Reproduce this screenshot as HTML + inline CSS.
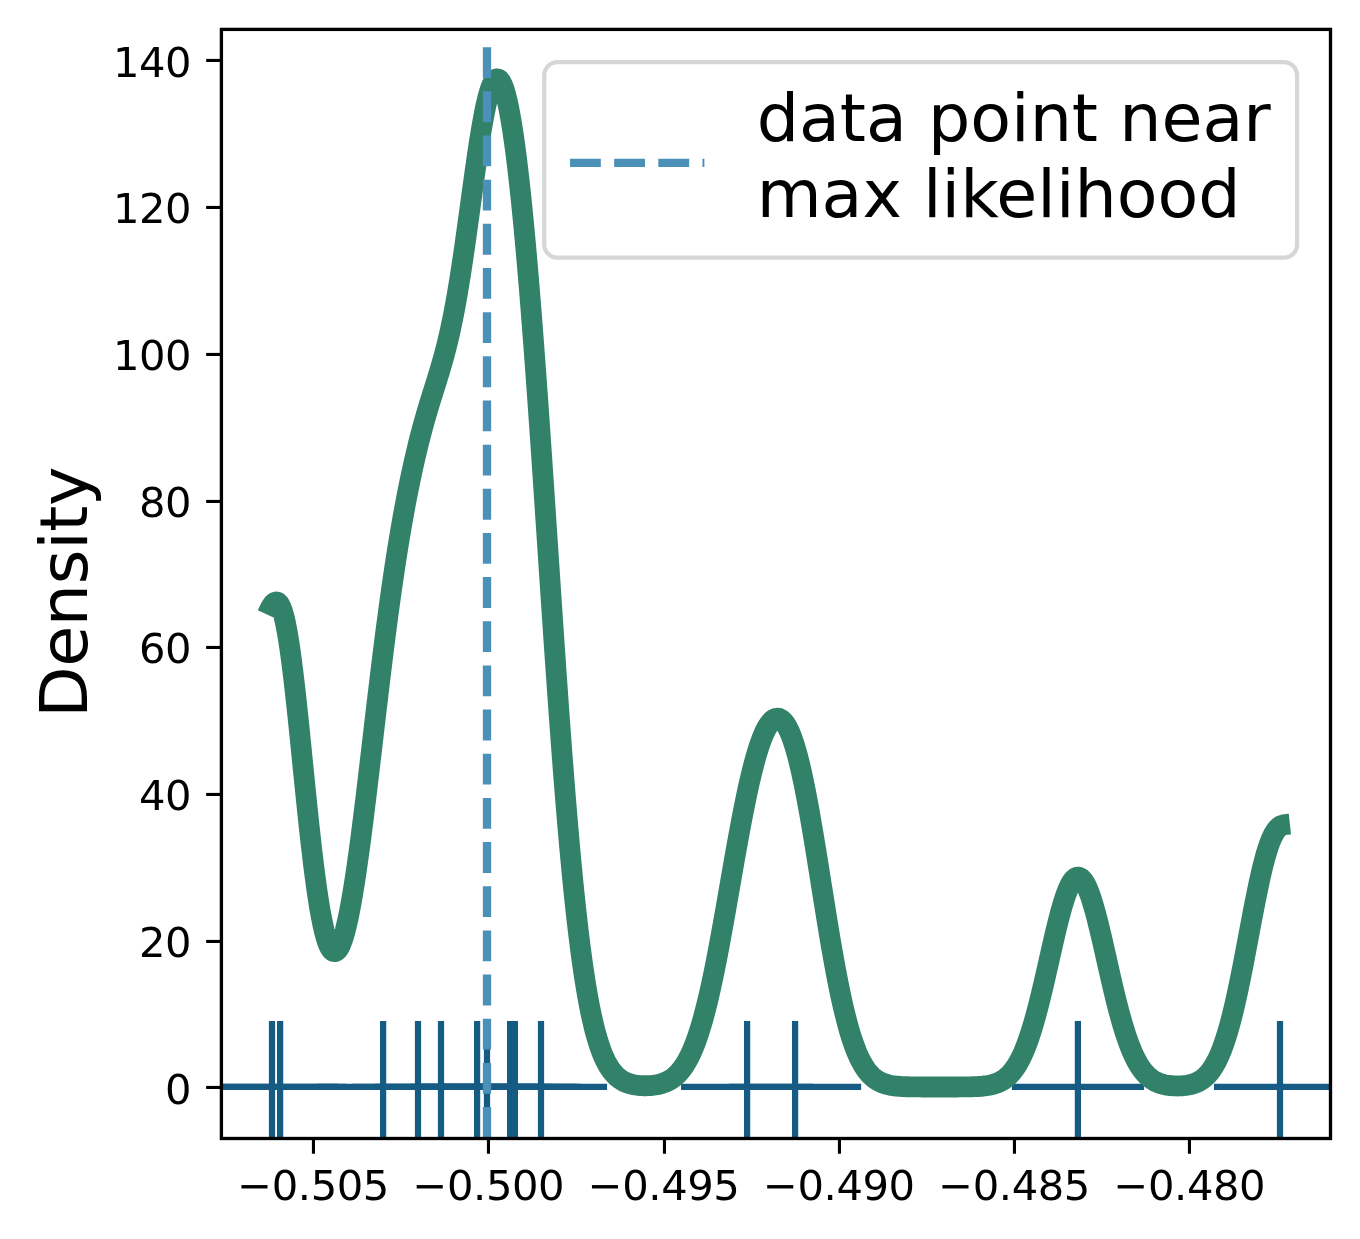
<!DOCTYPE html>
<html lang="en"><head><meta charset="utf-8"><title>Density</title>
<style>html,body{margin:0;padding:0;background:#fff}svg{display:block}text{font-family:"DejaVu Sans","Liberation Sans",sans-serif;fill:#000}</style></head><body>
<svg width="1360" height="1239" viewBox="0 0 1360 1239">
<rect width="1360" height="1239" fill="#fff"/>
<defs><clipPath id="ax"><rect x="221.4" y="29.4" width="1109.10" height="1109.10"/></clipPath></defs>
<g clip-path="url(#ax)">
<g stroke="#155b83" stroke-width="6.25">
<path d="M205.95 1086.9H338.05M272.0 1020.95V1153.05"/>
<path d="M214.05 1086.9H346.15M280.1 1020.95V1153.05"/>
<path d="M317.05 1086.9H449.15M383.1 1020.95V1153.05"/>
<path d="M351.95 1086.9H484.05M418.0 1020.95V1153.05"/>
<path d="M374.95 1086.9H507.05M441.0 1020.95V1153.05"/>
<path d="M411.05 1086.9H543.15M477.1 1020.95V1153.05"/>
<path d="M420.95 1086.9H553.05M487.0 1020.95V1153.05"/>
<path d="M444.05 1086.9H576.15M510.1 1020.95V1153.05"/>
<path d="M448.85 1086.9H580.95M514.9 1020.95V1153.05"/>
<path d="M474.95 1086.9H607.05M541.0 1020.95V1153.05"/>
<path d="M681.05 1086.9H813.15M747.1 1020.95V1153.05"/>
<path d="M729.05 1086.9H861.15M795.1 1020.95V1153.05"/>
<path d="M1011.85 1086.9H1143.95M1077.9 1020.95V1153.05"/>
<path d="M1213.95 1086.9H1346.05M1280.0 1020.95V1153.05"/>
</g>
<path d="M267.30 614.58 L268.80 611.31 L270.29 608.29 L271.79 605.68 L273.29 603.65 L274.79 602.35 L276.28 601.89 L277.78 602.40 L279.28 603.97 L280.77 606.68 L282.27 610.57 L283.77 615.66 L285.27 621.98 L286.76 629.48 L288.26 638.15 L289.76 647.92 L291.26 658.71 L292.75 670.44 L294.25 682.99 L295.75 696.26 L297.24 710.12 L298.74 724.45 L300.24 739.11 L301.74 753.98 L303.23 768.92 L304.73 783.81 L306.23 798.53 L307.72 812.97 L309.22 827.03 L310.72 840.61 L312.22 853.63 L313.71 866.01 L315.21 877.69 L316.71 888.62 L318.21 898.74 L319.70 908.03 L321.20 916.45 L322.70 923.99 L324.19 930.62 L325.69 936.34 L327.19 941.15 L328.69 945.05 L330.18 948.05 L331.68 950.14 L333.18 951.34 L334.67 951.67 L336.17 951.14 L337.67 949.76 L339.17 947.56 L340.66 944.54 L342.16 940.74 L343.66 936.18 L345.16 930.87 L346.65 924.84 L348.15 918.13 L349.65 910.75 L351.14 902.74 L352.64 894.13 L354.14 884.95 L355.64 875.25 L357.13 865.05 L358.63 854.40 L360.13 843.33 L361.62 831.89 L363.12 820.13 L364.62 808.08 L366.12 795.80 L367.61 783.32 L369.11 770.69 L370.61 757.96 L372.11 745.17 L373.60 732.35 L375.10 719.56 L376.60 706.83 L378.09 694.19 L379.59 681.68 L381.09 669.32 L382.59 657.15 L384.08 645.20 L385.58 633.47 L387.08 621.99 L388.57 610.77 L390.07 599.83 L391.57 589.16 L393.07 578.79 L394.56 568.70 L396.06 558.90 L397.56 549.39 L399.06 540.17 L400.55 531.22 L402.05 522.55 L403.55 514.15 L405.04 506.00 L406.54 498.11 L408.04 490.47 L409.54 483.07 L411.03 475.89 L412.53 468.95 L414.03 462.22 L415.52 455.71 L417.02 449.40 L418.52 443.29 L420.02 437.37 L421.51 431.64 L423.01 426.09 L424.51 420.69 L426.01 415.45 L427.50 410.34 L429.00 405.35 L430.50 400.46 L431.99 395.63 L433.49 390.86 L434.99 386.10 L436.49 381.33 L437.98 376.51 L439.48 371.61 L440.98 366.58 L442.47 361.40 L443.97 356.01 L445.47 350.38 L446.97 344.48 L448.46 338.27 L449.96 331.72 L451.46 324.80 L452.96 317.49 L454.45 309.77 L455.95 301.64 L457.45 293.09 L458.94 284.14 L460.44 274.79 L461.94 265.07 L463.44 255.02 L464.93 244.67 L466.43 234.07 L467.93 223.28 L469.42 212.37 L470.92 201.39 L472.42 190.44 L473.92 179.57 L475.41 168.88 L476.91 158.45 L478.41 148.36 L479.90 138.69 L481.40 129.52 L482.90 120.92 L484.40 112.96 L485.89 105.71 L487.39 99.24 L488.89 93.58 L490.39 88.78 L491.88 84.89 L493.38 81.94 L494.88 79.94 L496.37 78.92 L497.87 78.88 L499.37 79.83 L500.87 81.77 L502.36 84.69 L503.86 88.59 L505.36 93.46 L506.85 99.27 L508.35 106.03 L509.85 113.69 L511.35 122.26 L512.84 131.72 L514.34 142.03 L515.84 153.20 L517.34 165.19 L518.83 177.99 L520.33 191.59 L521.83 205.95 L523.32 221.08 L524.82 236.93 L526.32 253.50 L527.82 270.75 L529.31 288.66 L530.81 307.20 L532.31 326.33 L533.80 346.02 L535.30 366.24 L536.80 386.93 L538.30 408.05 L539.79 429.55 L541.29 451.37 L542.79 473.46 L544.29 495.76 L545.78 518.21 L547.28 540.74 L548.78 563.30 L550.27 585.81 L551.77 608.21 L553.27 630.44 L554.77 652.44 L556.26 674.14 L557.76 695.50 L559.26 716.44 L560.75 736.93 L562.25 756.92 L563.75 776.37 L565.25 795.22 L566.74 813.47 L568.24 831.06 L569.74 847.99 L571.24 864.23 L572.73 879.76 L574.23 894.59 L575.73 908.70 L577.22 922.09 L578.72 934.78 L580.22 946.75 L581.72 958.04 L583.21 968.64 L584.71 978.58 L586.21 987.88 L587.70 996.55 L589.20 1004.62 L590.70 1012.11 L592.20 1019.05 L593.69 1025.46 L595.19 1031.38 L596.69 1036.82 L598.19 1041.82 L599.68 1046.39 L601.18 1050.57 L602.68 1054.38 L604.17 1057.85 L605.67 1061.00 L607.17 1063.85 L608.67 1066.43 L610.16 1068.76 L611.66 1070.85 L613.16 1072.73 L614.65 1074.42 L616.15 1075.92 L617.65 1077.27 L619.15 1078.46 L620.64 1079.52 L622.14 1080.46 L623.64 1081.29 L625.14 1082.02 L626.63 1082.66 L628.13 1083.21 L629.63 1083.70 L631.12 1084.12 L632.62 1084.48 L634.12 1084.78 L635.62 1085.04 L637.11 1085.25 L638.61 1085.42 L640.11 1085.56 L641.60 1085.65 L643.10 1085.72 L644.60 1085.75 L646.10 1085.74 L647.59 1085.71 L649.09 1085.64 L650.59 1085.54 L652.09 1085.41 L653.58 1085.24 L655.08 1085.03 L656.58 1084.78 L658.07 1084.48 L659.57 1084.14 L661.07 1083.74 L662.57 1083.28 L664.06 1082.76 L665.56 1082.17 L667.06 1081.50 L668.55 1080.74 L670.05 1079.90 L671.55 1078.96 L673.05 1077.90 L674.54 1076.73 L676.04 1075.44 L677.54 1074.00 L679.03 1072.42 L680.53 1070.69 L682.03 1068.78 L683.53 1066.70 L685.02 1064.43 L686.52 1061.96 L688.02 1059.28 L689.52 1056.38 L691.01 1053.25 L692.51 1049.88 L694.01 1046.26 L695.50 1042.39 L697.00 1038.26 L698.50 1033.86 L700.00 1029.19 L701.49 1024.24 L702.99 1019.01 L704.49 1013.50 L705.98 1007.72 L707.48 1001.66 L708.98 995.33 L710.48 988.74 L711.97 981.90 L713.47 974.81 L714.97 967.48 L716.47 959.94 L717.96 952.20 L719.46 944.27 L720.96 936.17 L722.45 927.93 L723.95 919.57 L725.45 911.10 L726.95 902.56 L728.44 893.97 L729.94 885.36 L731.44 876.74 L732.93 868.16 L734.43 859.62 L735.93 851.17 L737.43 842.82 L738.92 834.60 L740.42 826.53 L741.92 818.64 L743.42 810.94 L744.91 803.47 L746.41 796.23 L747.91 789.24 L749.40 782.52 L750.90 776.09 L752.40 769.96 L753.90 764.13 L755.39 758.62 L756.89 753.43 L758.39 748.58 L759.88 744.08 L761.38 739.91 L762.88 736.10 L764.38 732.64 L765.87 729.55 L767.37 726.82 L768.87 724.45 L770.37 722.46 L771.86 720.84 L773.36 719.60 L774.86 718.74 L776.35 718.28 L777.85 718.20 L779.35 718.53 L780.85 719.26 L782.34 720.40 L783.84 721.95 L785.34 723.92 L786.83 726.32 L788.33 729.14 L789.83 732.39 L791.33 736.07 L792.82 740.18 L794.32 744.72 L795.82 749.69 L797.32 755.07 L798.81 760.86 L800.31 767.05 L801.81 773.63 L803.30 780.58 L804.80 787.88 L806.30 795.52 L807.80 803.47 L809.29 811.71 L810.79 820.20 L812.29 828.93 L813.78 837.86 L815.28 846.95 L816.78 856.18 L818.28 865.51 L819.77 874.91 L821.27 884.34 L822.77 893.76 L824.27 903.15 L825.76 912.47 L827.26 921.69 L828.76 930.77 L830.25 939.69 L831.75 948.42 L833.25 956.94 L834.75 965.22 L836.24 973.25 L837.74 981.00 L839.24 988.45 L840.73 995.61 L842.23 1002.45 L843.73 1008.97 L845.23 1015.17 L846.72 1021.04 L848.22 1026.57 L849.72 1031.79 L851.22 1036.68 L852.71 1041.25 L854.21 1045.51 L855.71 1049.47 L857.20 1053.14 L858.70 1056.52 L860.20 1059.64 L861.70 1062.51 L863.19 1065.13 L864.69 1067.52 L866.19 1069.69 L867.68 1071.66 L869.18 1073.44 L870.68 1075.05 L872.18 1076.49 L873.67 1077.79 L875.17 1078.94 L876.67 1079.97 L878.17 1080.88 L879.66 1081.69 L881.16 1082.40 L882.66 1083.03 L884.15 1083.58 L885.65 1084.07 L887.15 1084.49 L888.65 1084.85 L890.14 1085.17 L891.64 1085.45 L893.14 1085.68 L894.63 1085.89 L896.13 1086.06 L897.63 1086.21 L899.13 1086.34 L900.62 1086.45 L902.12 1086.54 L903.62 1086.62 L905.11 1086.68 L906.61 1086.74 L908.11 1086.78 L909.61 1086.82 L911.10 1086.85 L912.60 1086.88 L914.10 1086.90 L915.60 1086.92 L917.09 1086.94 L918.59 1086.95 L920.09 1086.96 L921.58 1086.97 L923.08 1086.97 L924.58 1086.98 L926.08 1086.98 L927.57 1086.99 L929.07 1086.99 L930.57 1086.99 L932.06 1086.99 L933.56 1086.99 L935.06 1086.99 L936.56 1087.00 L938.05 1087.00 L939.55 1087.00 L941.05 1087.00 L942.55 1087.00 L944.04 1087.00 L945.54 1086.99 L947.04 1086.99 L948.53 1086.99 L950.03 1086.99 L951.53 1086.99 L953.03 1086.98 L954.52 1086.98 L956.02 1086.97 L957.52 1086.97 L959.01 1086.96 L960.51 1086.95 L962.01 1086.94 L963.51 1086.93 L965.00 1086.91 L966.50 1086.89 L968.00 1086.86 L969.50 1086.83 L970.99 1086.80 L972.49 1086.75 L973.99 1086.70 L975.48 1086.64 L976.98 1086.57 L978.48 1086.48 L979.98 1086.38 L981.47 1086.26 L982.97 1086.12 L984.47 1085.95 L985.96 1085.76 L987.46 1085.54 L988.96 1085.28 L990.46 1084.98 L991.95 1084.63 L993.45 1084.24 L994.95 1083.78 L996.45 1083.26 L997.94 1082.67 L999.44 1082.00 L1000.94 1081.24 L1002.43 1080.39 L1003.93 1079.43 L1005.43 1078.35 L1006.93 1077.15 L1008.42 1075.81 L1009.92 1074.32 L1011.42 1072.67 L1012.91 1070.85 L1014.41 1068.85 L1015.91 1066.66 L1017.41 1064.26 L1018.90 1061.66 L1020.40 1058.83 L1021.90 1055.77 L1023.40 1052.47 L1024.89 1048.92 L1026.39 1045.13 L1027.89 1041.08 L1029.38 1036.78 L1030.88 1032.22 L1032.38 1027.42 L1033.88 1022.37 L1035.37 1017.08 L1036.87 1011.56 L1038.37 1005.83 L1039.86 999.90 L1041.36 993.79 L1042.86 987.52 L1044.36 981.12 L1045.85 974.61 L1047.35 968.03 L1048.85 961.40 L1050.35 954.77 L1051.84 948.16 L1053.34 941.62 L1054.84 935.18 L1056.33 928.89 L1057.83 922.79 L1059.33 916.91 L1060.83 911.30 L1062.32 906.00 L1063.82 901.05 L1065.32 896.47 L1066.81 892.32 L1068.31 888.62 L1069.81 885.39 L1071.31 882.67 L1072.80 880.47 L1074.30 878.82 L1075.80 877.72 L1077.30 877.19 L1078.79 877.22 L1080.29 877.83 L1081.79 879.00 L1083.28 880.73 L1084.78 883.00 L1086.28 885.79 L1087.78 889.08 L1089.27 892.85 L1090.77 897.06 L1092.27 901.68 L1093.76 906.69 L1095.26 912.03 L1096.76 917.68 L1098.26 923.59 L1099.75 929.72 L1101.25 936.03 L1102.75 942.48 L1104.24 949.04 L1105.74 955.65 L1107.24 962.29 L1108.74 968.91 L1110.23 975.48 L1111.73 981.98 L1113.23 988.36 L1114.73 994.61 L1116.22 1000.69 L1117.72 1006.60 L1119.22 1012.30 L1120.71 1017.79 L1122.21 1023.05 L1123.71 1028.07 L1125.21 1032.84 L1126.70 1037.36 L1128.20 1041.63 L1129.70 1045.65 L1131.19 1049.41 L1132.69 1052.92 L1134.19 1056.18 L1135.69 1059.21 L1137.18 1062.01 L1138.68 1064.59 L1140.18 1066.96 L1141.68 1069.12 L1143.17 1071.10 L1144.67 1072.89 L1146.17 1074.52 L1147.66 1075.98 L1149.16 1077.31 L1150.66 1078.49 L1152.16 1079.55 L1153.65 1080.49 L1155.15 1081.33 L1156.65 1082.07 L1158.14 1082.72 L1159.64 1083.29 L1161.14 1083.79 L1162.64 1084.22 L1164.13 1084.59 L1165.63 1084.91 L1167.13 1085.18 L1168.63 1085.40 L1170.12 1085.59 L1171.62 1085.73 L1173.12 1085.84 L1174.61 1085.91 L1176.11 1085.96 L1177.61 1085.97 L1179.11 1085.94 L1180.60 1085.89 L1182.10 1085.80 L1183.60 1085.67 L1185.09 1085.51 L1186.59 1085.31 L1188.09 1085.06 L1189.59 1084.76 L1191.08 1084.40 L1192.58 1083.98 L1194.08 1083.50 L1195.58 1082.94 L1197.07 1082.29 L1198.57 1081.55 L1200.07 1080.71 L1201.56 1079.76 L1203.06 1078.68 L1204.56 1077.47 L1206.06 1076.10 L1207.55 1074.58 L1209.05 1072.88 L1210.55 1071.00 L1212.04 1068.91 L1213.54 1066.61 L1215.04 1064.07 L1216.54 1061.30 L1218.03 1058.27 L1219.53 1054.98 L1221.03 1051.41 L1222.53 1047.55 L1224.02 1043.39 L1225.52 1038.94 L1227.02 1034.18 L1228.51 1029.11 L1230.01 1023.73 L1231.51 1018.04 L1233.01 1012.06 L1234.50 1005.78 L1236.00 999.23 L1237.50 992.41 L1238.99 985.35 L1240.49 978.06 L1241.99 970.58 L1243.49 962.94 L1244.98 955.15 L1246.48 947.27 L1247.98 939.33 L1249.48 931.36 L1250.97 923.41 L1252.47 915.53 L1253.97 907.76 L1255.46 900.14 L1256.96 892.71 L1258.46 885.53 L1259.96 878.63 L1261.45 872.06 L1262.95 865.84 L1264.45 860.02 L1265.94 854.62 L1267.44 849.67 L1268.94 845.18 L1270.44 841.16 L1271.93 837.63 L1273.43 834.57 L1274.93 831.98 L1276.43 829.85 L1277.92 828.14 L1279.42 826.82 L1280.92 825.85 L1282.41 825.18 L1283.91 824.75 L1285.41 824.50 L1286.91 824.36 L1288.40 824.25 L1289.90 824.09" fill="none" stroke="#32826a" stroke-width="20.83" stroke-linejoin="round" stroke-linecap="butt"/>
<line x1="487.0" x2="487.0" y1="47.2" y2="1150" stroke="#4a90b8" stroke-width="8.33" stroke-dasharray="30.83 13.33"/>
</g>
<g stroke="#000" stroke-width="3.1">
<line x1="313.45" x2="313.45" y1="1138.5" y2="1153.75"/>
<line x1="488.45" x2="488.45" y1="1138.5" y2="1153.75"/>
<line x1="664.45" x2="664.45" y1="1138.5" y2="1153.75"/>
<line x1="839.45" x2="839.45" y1="1138.5" y2="1153.75"/>
<line x1="1014.45" x2="1014.45" y1="1138.5" y2="1153.75"/>
<line x1="1189.45" x2="1189.45" y1="1138.5" y2="1153.75"/>
<line x1="221.4" x2="206.15" y1="1087.45" y2="1087.45"/>
<line x1="221.4" x2="206.15" y1="941.45" y2="941.45"/>
<line x1="221.4" x2="206.15" y1="794.45" y2="794.45"/>
<line x1="221.4" x2="206.15" y1="647.45" y2="647.45"/>
<line x1="221.4" x2="206.15" y1="501.45" y2="501.45"/>
<line x1="221.4" x2="206.15" y1="354.45" y2="354.45"/>
<line x1="221.4" x2="206.15" y1="207.45" y2="207.45"/>
<line x1="221.4" x2="206.15" y1="60.45" y2="60.45"/>
</g>
<rect x="221.4" y="29.4" width="1109.10" height="1109.10" fill="none" stroke="#000" stroke-width="3.33" stroke-linejoin="miter"/>
<g font-size="41.67px" letter-spacing="-0.4">
<text x="313.10" y="1200.3" text-anchor="middle">−0.505</text>
<text x="488.35" y="1200.3" text-anchor="middle">−0.500</text>
<text x="663.60" y="1200.3" text-anchor="middle">−0.495</text>
<text x="838.85" y="1200.3" text-anchor="middle">−0.490</text>
<text x="1014.10" y="1200.3" text-anchor="middle">−0.485</text>
<text x="1189.35" y="1200.3" text-anchor="middle">−0.480</text>
<text x="191.2" y="1103.65" text-anchor="end">0</text>
<text x="191.2" y="956.93" text-anchor="end">20</text>
<text x="191.2" y="810.21" text-anchor="end">40</text>
<text x="191.2" y="663.49" text-anchor="end">60</text>
<text x="191.2" y="516.77" text-anchor="end">80</text>
<text x="191.2" y="370.05" text-anchor="end">100</text>
<text x="191.2" y="223.33" text-anchor="end">120</text>
<text x="191.2" y="76.61" text-anchor="end">140</text>
</g>
<text font-size="66.67px" letter-spacing="-0.35" text-anchor="middle" transform="translate(87.3 592.3) rotate(-90)">Density</text>
<rect x="544.2" y="62.1" width="752.9" height="195.6" rx="13.3" ry="13.3" fill="#fff" fill-opacity="0.8" stroke="#cccccc" stroke-opacity="0.8" stroke-width="4.17"/>
<line x1="570.0" x2="704.4" y1="162.9" y2="162.9" stroke="#4a90b8" stroke-width="8.33" stroke-dasharray="30.83 13.33"/>
<g font-size="66.67px"><text x="756.7" y="141.2">data point near</text><text x="756.7" y="216.9">max likelihood</text></g>
</svg></body></html>
